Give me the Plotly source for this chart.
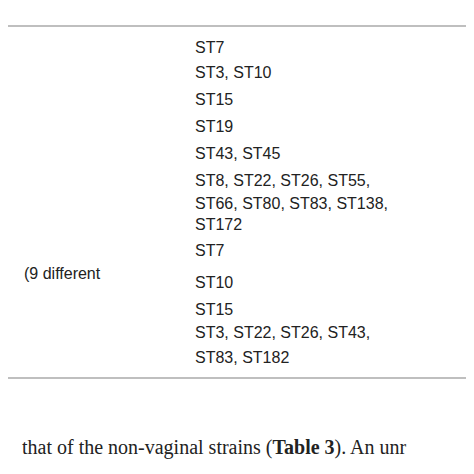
import plotly.graph_objects as go

headers = ['Genotype', 'Isola']
group_lines = [
    ['<i>C. glabrata</i> (<i>n</i> = 76)', 'erent genotypes)'],
    ['ginal <i>C. glabrata</i>', '(9 different', 'pes)'],
]
genotype_lines = [
    ['ST7', 'ST3, ST10', 'ST15', 'ST19', 'ST43, ST45', 'ST8, ST22, ST26, ST55,',
     'ST66, ST80, ST83, ST138,', 'ST172'],
    ['ST7', 'ST10', 'ST15', 'ST3, ST22, ST26, ST43,', 'ST83, ST182'],
]
body_lines = ['<i>brata</i> strains showed a greater genetic diversity com',
              'that of the non-vaginal strains (<b>Table 3</b>). An unr']

fig = go.Figure()
fig.add_trace(go.Scatter(x=[8, 470], y=[8, 470], mode='markers', marker=dict(opacity=0), hoverinfo='skip'))

sans = 'Liberation Sans, Arial'
serif = 'Liberation Serif, Times New Roman'

def txt(x, y, s, size=16, family=sans):
    fig.add_annotation(x=x, y=y, text=s, showarrow=False, xanchor='left', yanchor='middle',
                       font=dict(family=family, size=size, color='#222'))

# header (cut at the page edges in the original)
txt(193, 7, '<b>' + headers[0] + '</b>')
txt(440, 7, '<b>' + headers[1] + '</b>')

# first group
txt(2, 47, group_lines[0][0])
txt(0, 72, group_lines[0][1])
g1_y = [47, 72, 99, 126, 153, 180, 203, 224]
for y, s in zip(g1_y, genotype_lines[0]):
    txt(193, y, s)

# second group
txt(0, 250, group_lines[1][0])
txt(22, 273, group_lines[1][1])
txt(0, 295, group_lines[1][2])
g2_y = [250, 282, 309, 332, 357]
for y, s in zip(g2_y, genotype_lines[1]):
    txt(193, y, s)

# paragraph text below the table
txt(0, 420, body_lines[0], size=20, family=serif)
txt(20, 447, body_lines[1], size=20, family=serif)

fig.add_shape(type='line', x0=8, x1=482, y0=26, y1=26, line=dict(color='#aaa', width=1.5))
fig.add_shape(type='line', x0=8, x1=482, y0=378, y1=378, line=dict(color='#aaa', width=1.5))
fig.add_shape(type='line', x0=-10, x1=8, y0=26, y1=26, line=dict(color='#aaa', width=1.5))
fig.add_shape(type='line', x0=-10, x1=8, y0=378, y1=378, line=dict(color='#aaa', width=1.5))

# the page adds an 8px margin, so the axes start at 8 to line up with the window
fig.update_xaxes(range=[8, 482], visible=False)
fig.update_yaxes(range=[482, 8], visible=False)
fig.update_layout(width=474, height=474, margin=dict(l=0, r=0, t=0, b=0),
                  plot_bgcolor='white', paper_bgcolor='white', showlegend=False)
fig.write_html('out.html')
